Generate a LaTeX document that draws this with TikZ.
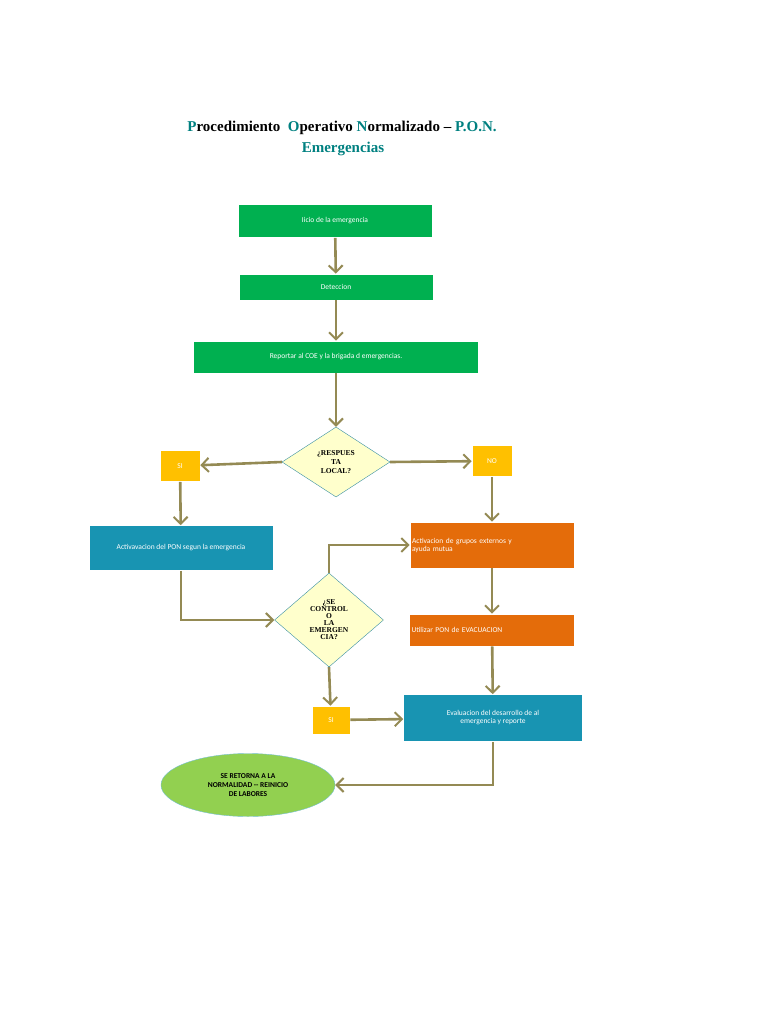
\documentclass[tikz,border=0pt]{standalone}
\usepackage{fontspec}
\setmainfont{Liberation Serif}
\newfontfamily\boxfont{Carlito}
\usetikzlibrary{shapes.geometric,arrows.meta}
\definecolor{pgreen}{RGB}{0,176,80}
\definecolor{pamber}{RGB}{255,192,0}
\definecolor{pteal}{RGB}{24,148,178}
\definecolor{porange}{RGB}{228,108,10}
\definecolor{plime}{RGB}{146,208,80}
\definecolor{pcream}{RGB}{255,255,204}
\definecolor{pline}{RGB}{148,138,84}
\definecolor{ptitle}{RGB}{0,128,128}
\tikzset{
  caja/.style={draw=white, line width=0.6pt, text=white, font=\boxfont\fontsize{7.5}{9}\selectfont, inner sep=1pt},
  rombo/.style={diamond, draw=pteal!70!gray, fill=pcream, inner sep=0pt, align=center, font=\bfseries\fontsize{7.5}{9}\selectfont},
  flecha/.style={draw=pline, line width=2.6pt, -{Straight Barb[length=7pt,width=14pt,line width=2pt]}}
}
\newcommand{\tl}[1]{\textcolor{ptitle}{#1}}
\begin{document}
\begin{tikzpicture}[x=1pt,y=-1pt]
				\useasboundingbox (0,0) rectangle (768,1024);

				% Titulo
				\node (titulo) at (342,128) {\fontsize{15}{17}\selectfont\bfseries \tl{P}rocedimiento\ \ \tl{O}perativo \tl{N}ormalizado -- \tl{P.O.N.}};
				\node (subtitulo) at (343,149) {\fontsize{15}{17}\selectfont\bfseries \tl{Emergencias}};

				% Columna central
				\node[caja, fill=pgreen, minimum width=194, minimum height=33] (inicio) at (335,221) {Iicio de la emergencia};
				\node[caja, fill=pgreen, minimum width=194, minimum height=26] (deteccion) at (336,287) {Deteccion};
				\node[caja, fill=pgreen, minimum width=285, minimum height=32] (reportar) at (336,357) {Reportar al COE y la brigada d emergencias.};
				\node[rombo, minimum width=108, minimum height=70] (local) at (336,462) {¿RESPUES\\TA\\LOCAL?};

				% Respuestas
				\node[caja, fill=pamber, minimum width=40, minimum height=31] (si) at (180,466) {SI};
				\node[caja, fill=pamber, minimum width=40, minimum height=31] (no) at (492,461) {NO};
				\node[caja, fill=pteal, minimum width=184, minimum height=45] (activpon) at (181,548) {Activavacion del PON segun la emergencia};
				\node[caja, fill=porange, minimum width=164, minimum height=46, text width=160, align=left] (externos) at (492,545) {Activacion de grupos externos y\\[-1pt]ayuda mutua};
				\node[rombo, minimum width=109, minimum height=94] (control) at (329,620) {¿SE\\[-2pt]CONTROL\\[-2pt]O\\[-2pt]LA\\[-2pt]EMERGEN\\[-2pt]CIA?};
				\node[caja, fill=porange, minimum width=165, minimum height=32, text width=161, align=left] (evacuacion) at (492,630) {Utilizar PON de EVACUACION};
				\node[caja, fill=pamber, minimum width=38, minimum height=28] (sidos) at (331,720) {SI};
				\node[caja, fill=pteal, minimum width=179, minimum height=47, align=center] (evaluacion) at (493,718) {Evaluacion del desarrollo de al\\[-1pt]emergencia y reporte};
				\node[ellipse, draw=pteal!60, fill=plime, minimum width=174, minimum height=63, align=center, font=\boxfont\bfseries\fontsize{7.5}{9}\selectfont] (normalidad) at (248,785) {SE RETORNA A LA\\NORMALIDAD -- REINICIO\\DE LABORES};

				% Conectores
				\draw[flecha] (inicio) -- (deteccion);
				\draw[flecha] (deteccion) -- (reportar);
				\draw[flecha] (reportar) -- (local);
				\draw[flecha] (local.west) -- (si);
				\draw[flecha] (local.east) -- (no);
				\draw[flecha] (si) -- (activpon);
				\draw[flecha] (no) -- (externos);
				\draw[flecha] (activpon.south) |- (control.west);
				\draw[flecha] (control.north) |- (externos.west);
				\draw[flecha] (externos) -- (evacuacion);
				\draw[flecha] (evacuacion) -- (evaluacion);
				\draw[flecha] (control.south) -- (sidos);
				\draw[flecha] (sidos) -- (evaluacion);
				\draw[flecha] (evaluacion.south) |- (normalidad.east);
			\end{tikzpicture}
\end{document}
